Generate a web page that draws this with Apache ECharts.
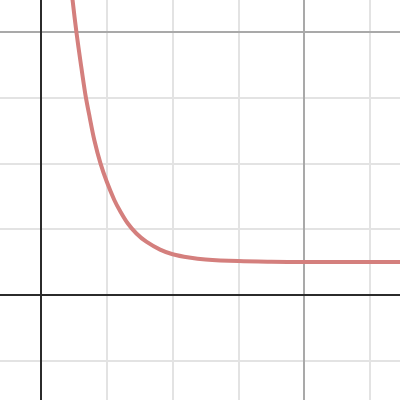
<!DOCTYPE html>
<html>
<head>
<meta charset="utf-8">
<script src="https://cdn.jsdelivr.net/npm/echarts@6/dist/echarts.min.js"></script>
<style>html,body{margin:0;padding:0;background:#fff;}#c{width:400px;height:400px;}</style>
</head>
<body>
<div id="c"></div>
<script>
// Curve points: [x, y]
var curveX = [0.44, 0.48, 0.54, 0.60, 0.674, 0.74, 0.81, 0.904, 1.0, 1.114, 1.2, 1.317, 1.45, 1.6, 1.81, 2.0, 2.25, 2.5, 3.0, 3.5, 4.0, 4.5, 5.0, 5.6];
var curveY = [4.85, 4.48, 3.98, 3.55, 3.05, 2.70, 2.356, 2.0, 1.72, 1.444, 1.28, 1.09, 0.935, 0.81, 0.69, 0.62, 0.57, 0.54, 0.515, 0.505, 0.50, 0.50, 0.50, 0.50];
// Grid extents (axis units) and major grid values
var xRange = [-1, 6];
var yRange = [-2, 5];
var majorX = [4];
var majorY = [4];
var axisX = [0];
var axisY = [0];

var unit = 65.8;
var originPx = [41, 295];
var chart = echarts.init(document.getElementById('c'), null, {renderer: 'canvas'});
var data = curveX.map(function (x, i) { return [x, curveY[i]]; });

var markData = [];
majorX.forEach(function (v) { markData.push({xAxis: v, lineStyle: {color: '#a9a9a9', width: 2, type: 'solid'}}); });
majorY.forEach(function (v) { markData.push({yAxis: v, lineStyle: {color: '#a9a9a9', width: 2, type: 'solid'}}); });
axisX.forEach(function (v) { markData.push({xAxis: v, lineStyle: {color: '#2b2b2b', width: 2, type: 'solid'}}); });
axisY.forEach(function (v) { markData.push({yAxis: v, lineStyle: {color: '#2b2b2b', width: 2, type: 'solid'}}); });

chart.setOption({
  animation: false,
  backgroundColor: '#ffffff',
  grid: {
    left: originPx[0] + xRange[0] * unit,
    top: originPx[1] - yRange[1] * unit,
    width: (xRange[1] - xRange[0]) * unit,
    height: (yRange[1] - yRange[0]) * unit,
    containLabel: false,
    outerBoundsMode: 'none'
  },
  xAxis: {
    type: 'value', min: xRange[0], max: xRange[1], interval: 1,
    axisLine: {show: false}, axisTick: {show: false}, axisLabel: {show: false},
    splitLine: {show: true, lineStyle: {color: '#e3e3e3', width: 2}}
  },
  yAxis: {
    type: 'value', min: yRange[0], max: yRange[1], interval: 1,
    axisLine: {show: false}, axisTick: {show: false}, axisLabel: {show: false},
    splitLine: {show: true, lineStyle: {color: '#e3e3e3', width: 2}}
  },
  series: [
    {
      type: 'line', data: [], z: 1, silent: true,
      markLine: {silent: true, symbol: 'none', label: {show: false}, animation: false, data: markData}
    },
    {
      type: 'line', data: data, z: 5, showSymbol: false, smooth: 0.3,
      clip: true,
      lineStyle: {color: '#d47f7d', width: 4, cap: 'round', join: 'round'}
    }
  ]
});
</script>
</body>
</html>
